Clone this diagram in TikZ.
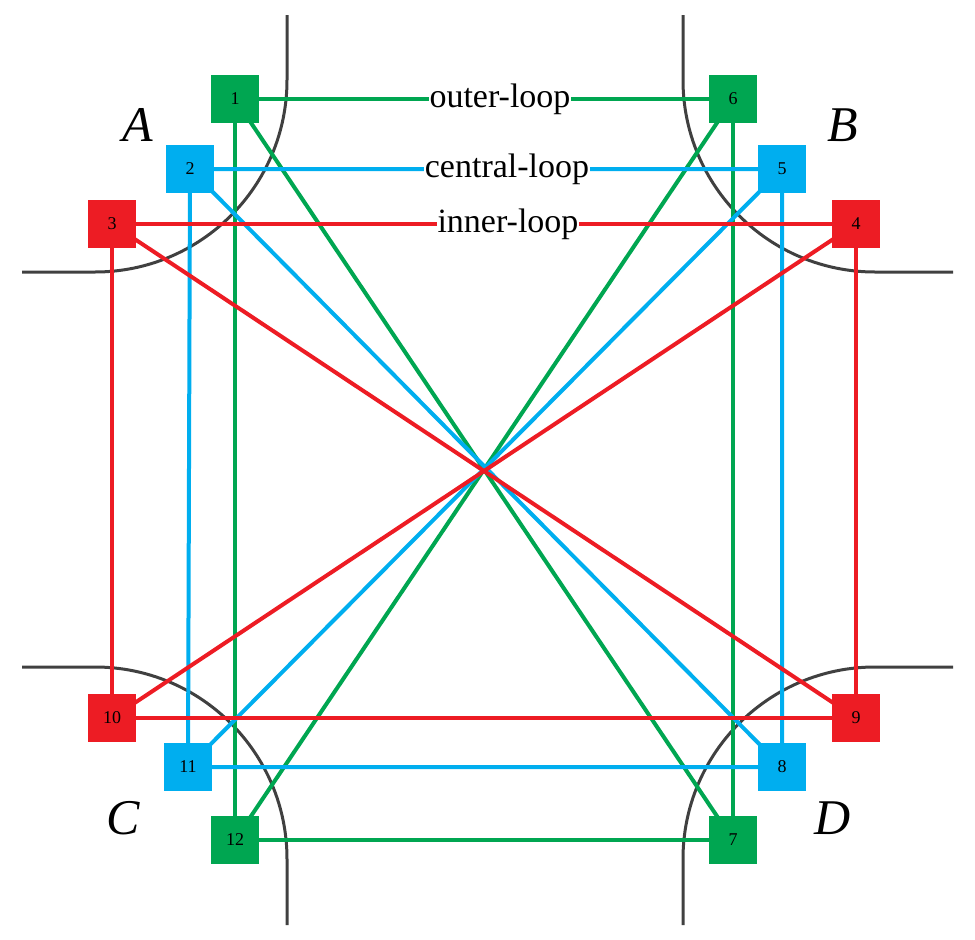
\documentclass[tikz,border=0pt]{standalone}
\usepackage{fontspec}
\setmainfont{Liberation Serif}
\definecolor{gr}{RGB}{0,166,81}
\definecolor{bl}{RGB}{0,174,239}
\definecolor{rd}{RGB}{237,28,36}
\definecolor{dk}{RGB}{64,64,64}
\begin{document}
\begin{tikzpicture}[x=1pt,y=-1pt,
  sq/.style={minimum size=48pt,inner sep=0pt,font=\fontsize{18}{18}\selectfont},
  gsq/.style={sq,fill=gr},bsq/.style={sq,fill=bl},rsq/.style={sq,fill=rd},
  ln/.style={line width=4pt},
  road/.style={dk,line width=3pt},
  lab/.style={fill=white,inner sep=1pt,font=\fontsize{34}{34}\selectfont},
  big/.style={font=\fontsize{50}{50}\selectfont\itshape}]
\useasboundingbox (0,0) rectangle (975,940);
% roads
\draw[road] (287,15) -- (287,80) arc[start angle=0,end angle=90,radius=192] -- (22,272);
\draw[road] (683,15) -- (683,80) arc[start angle=180,end angle=90,radius=192] -- (953,272);
\draw[road] (22,667) -- (95,667) arc[start angle=270,end angle=360,radius=192] -- (287,925);
\draw[road] (953,667) -- (875,667) arc[start angle=270,end angle=180,radius=192] -- (683,925);
% nodes
\node[gsq] (n1) at (235,99) {1};
\node[gsq] (n6) at (733,99) {6};
\node[bsq] (n2) at (190,169) {2};
\node[bsq] (n5) at (782,169) {5};
\node[rsq] (n3) at (112,224) {3};
\node[rsq] (n4) at (856,224) {4};
\node[rsq] (n10) at (112,718) {10};
\node[rsq] (n9) at (856,718) {9};
\node[bsq] (n11) at (188,767) {11};
\node[bsq] (n8) at (782,767) {8};
\node[gsq] (n12) at (235,840) {12};
\node[gsq] (n7) at (733,840) {7};
\begin{scope}[on background layer/.style={}]
\end{scope}
% lines (drawn, then nodes redrawn on top)
\draw[ln,gr] (n1.center)--(n6.center)--(n7.center)--(n12.center)--cycle;
\draw[ln,gr] (n1.center)--(n7.center) (n6.center)--(n12.center);
\draw[ln,bl] (n2.center)--(n5.center)--(n8.center)--(n11.center)--cycle;
\draw[ln,bl] (n2.center)--(n8.center) (n5.center)--(n11.center);
\draw[ln,rd] (n3.center)--(n4.center)--(n9.center)--(n10.center)--cycle;
\draw[ln,rd] (n3.center)--(n9.center) (n4.center)--(n10.center);
\node[gsq] at (n1) {1}; \node[gsq] at (n6) {6};
\node[bsq] at (n2) {2}; \node[bsq] at (n5) {5};
\node[rsq] at (n3) {3}; \node[rsq] at (n4) {4};
\node[rsq] at (n10) {10}; \node[rsq] at (n9) {9};
\node[bsq] at (n11) {11}; \node[bsq] at (n8) {8};
\node[gsq] at (n12) {12}; \node[gsq] at (n7) {7};
% labels
\node[lab] (lo) at (500,99) {outer-loop};
\node[lab] (lc) at (507,169) {central-loop};
\node[lab] (li) at (508,224) {inner-loop};
\node[big] (A) at (138,125) {A};
\node[big] (B) at (843,125) {B};
\node[big] (C) at (123,818) {C};
\node[big] (D) at (833,818) {D};
\end{tikzpicture}
\end{document}
